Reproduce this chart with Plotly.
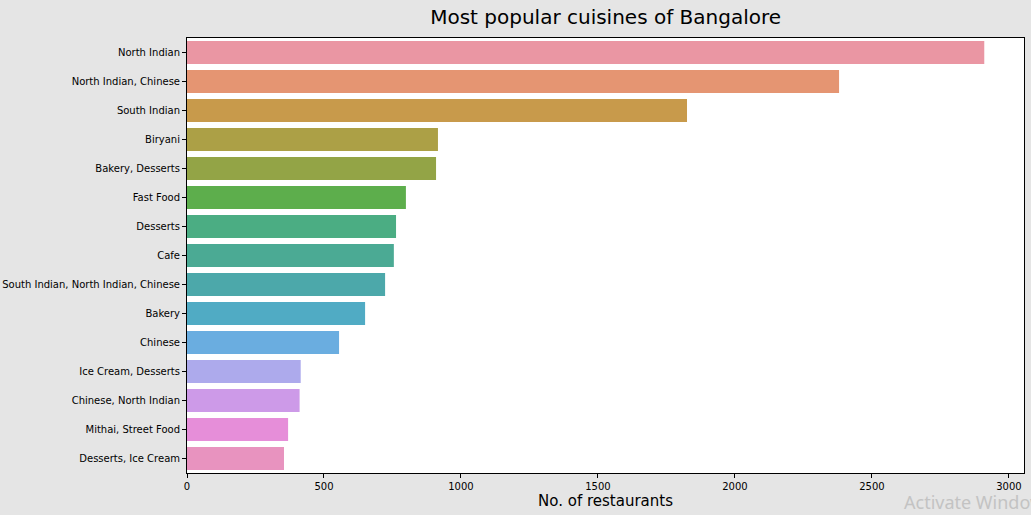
import plotly.graph_objects as go

cuisines = ["North Indian", "North Indian, Chinese", "South Indian", "Biryani",
            "Bakery, Desserts", "Fast Food", "Desserts", "Cafe",
            "South Indian, North Indian, Chinese", "Bakery", "Chinese",
            "Ice Cream, Desserts", "Chinese, North Indian", "Mithai, Street Food",
            "Desserts, Ice Cream"]
counts = [2910, 2380, 1825, 916, 909, 799, 763, 755, 723, 650, 555, 415, 411, 369, 354]
colors = ["#ea96a3", "#e59572", "#c89a4b", "#aca046", "#93a446", "#5dae4c",
          "#4bad83", "#4baa94", "#4ca8aa", "#50abc4", "#6aade0", "#adaaec",
          "#cd9ae8", "#e68ed9", "#e893bf"]
x_ticks = [0, 500, 1000, 1500, 2000, 2500, 3000]

fig = go.Figure(go.Bar(
    x=counts, y=cuisines, orientation="h",
    marker=dict(color=colors, line=dict(width=0)),
    width=0.8,
))

font = "DejaVu Sans, sans-serif"
fig.update_layout(
    width=1031, height=515,
    margin=dict(l=187, r=7, t=38, b=42, autoexpand=False),
    paper_bgcolor="#e5e5e5",
    plot_bgcolor="white",
    showlegend=False,
    bargap=0.2,
    title=dict(text="Most popular cuisines of Bangalore", x=0.5874, xanchor="center",
               y=0.967, yanchor="middle",
               font=dict(family=font, size=20, color="black")),
    font=dict(family=font, size=10, color="black"),
)
fig.update_xaxes(
    range=[0, 3055], tickvals=x_ticks, ticktext=[str(v) for v in x_ticks],
    showgrid=False, zeroline=False, automargin=False,
    showline=True, linecolor="black", linewidth=1, mirror=True,
    ticks="outside", ticklen=4, tickcolor="black",
    tickfont=dict(family=font, size=10, color="black"),
    title=dict(text="No. of restaurants", font=dict(family=font, size=15, color="black"),
               standoff=4),
)
fig.update_yaxes(
    autorange="reversed", showgrid=False, zeroline=False, automargin=False,
    showline=True, linecolor="black", linewidth=1, mirror=True,
    ticks="outside", ticklen=4, tickcolor="black",
    tickfont=dict(family=font, size=10, color="black"),
)
fig.add_annotation(text="Activate Windows", xref="paper", yref="paper",
                   x=(902 - 187) / 837, y=-0.066, xanchor="left", yanchor="middle",
                   showarrow=False,
                   font=dict(family="Noto Sans, sans-serif", size=18, color="#c3c3c3"))

fig.write_html("out.html")
